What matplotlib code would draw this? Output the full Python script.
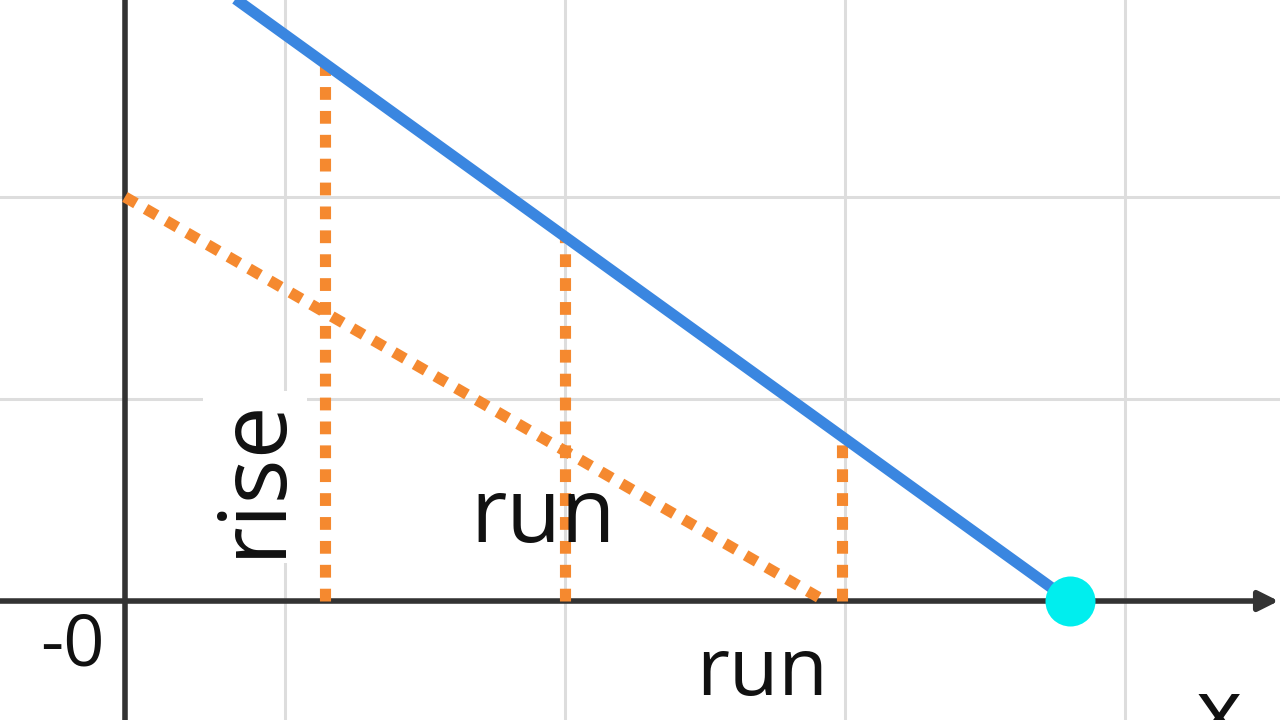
import matplotlib
matplotlib.use("Agg")
import matplotlib.pyplot as plt
import numpy as np

# ---- data (graph units: y-axis at x=0, x-axis at y=0) ----
grid_x = [0.571, 1.571, 2.571, 3.571]
grid_y = [1.0, 2.0]
blue_x = [0.30, 3.375]
blue_intercept = 3.375          # y = intercept - x
orange_x = [0.0, 2.5]
orange_y = [2.0, 0.0]
drop_x = [0.714, 1.571, 2.56]
root_x = [3.375]
root_y = [0.0]
labels = ["rise", "run", "run", "-0", "x"]

fig = plt.figure(figsize=(12.8, 7.2), dpi=100)
ax = fig.add_axes([0, 0, 1, 1])
ax.set_xlim(-0.446, 4.125)
ax.set_ylim(-0.589, 2.975)
ax.axis("off")

grid_c = "#dddddd"
for gx in grid_x:
    ax.axvline(gx, color=grid_c, lw=2.2, zorder=1)
for gy in grid_y:
    ax.axhline(gy, color=grid_c, lw=2.2, zorder=1)

axis_c = "#333333"
# y-axis
ax.axvline(0, color=axis_c, lw=4, zorder=3)
# x-axis with arrow
ax.annotate("", xy=(4.12, 0), xytext=(-0.5, 0),
            arrowprops=dict(arrowstyle="-|>,head_length=1.2,head_width=0.6",
                            color=axis_c, lw=4, shrinkA=0, shrinkB=0),
            zorder=3)

orange = "#f5892f"
dots = (0, (1.15, 1.0))
ax.plot(orange_x, orange_y, color=orange, lw=8, ls=dots,
        dash_capstyle="butt", zorder=4)
for dx in drop_x:
    ax.plot([dx, dx], [0, blue_intercept - dx], color=orange, lw=8, ls=dots,
            dash_capstyle="butt", zorder=4)

bx = np.array(blue_x)
ax.plot(bx, blue_intercept - bx, color="#3a86e0", lw=8,
        solid_capstyle="butt", zorder=5, clip_on=True)

ax.plot(root_x, root_y, "o", color="#00eeee", ms=36, mec="none", zorder=6)

font = ["Open Sans", "DejaVu Sans"]
ax.text(0.464, 0.615, labels[0], rotation=90, ha="center", va="center",
        fontsize=68, family=font, color="#111111", zorder=4,
        bbox=dict(facecolor="white", edgecolor="none", pad=4))
ax.text(1.495, 0.292, labels[1], ha="center", va="baseline",
        fontsize=64, family=font, color="#111111", zorder=6)
ax.text(2.275, -0.465, labels[2], ha="center", va="baseline",
        fontsize=58, family=font, color="#111111", zorder=6)
ax.text(-0.186, -0.317, labels[3], ha="center", va="baseline",
        fontsize=52, family=font, color="#111111", zorder=6)
ax.text(3.904, -0.70, labels[4], ha="center", va="baseline",
        fontsize=64, family=font, color="#111111", zorder=6)

fig.savefig("out.png", dpi=100, facecolor="white")
